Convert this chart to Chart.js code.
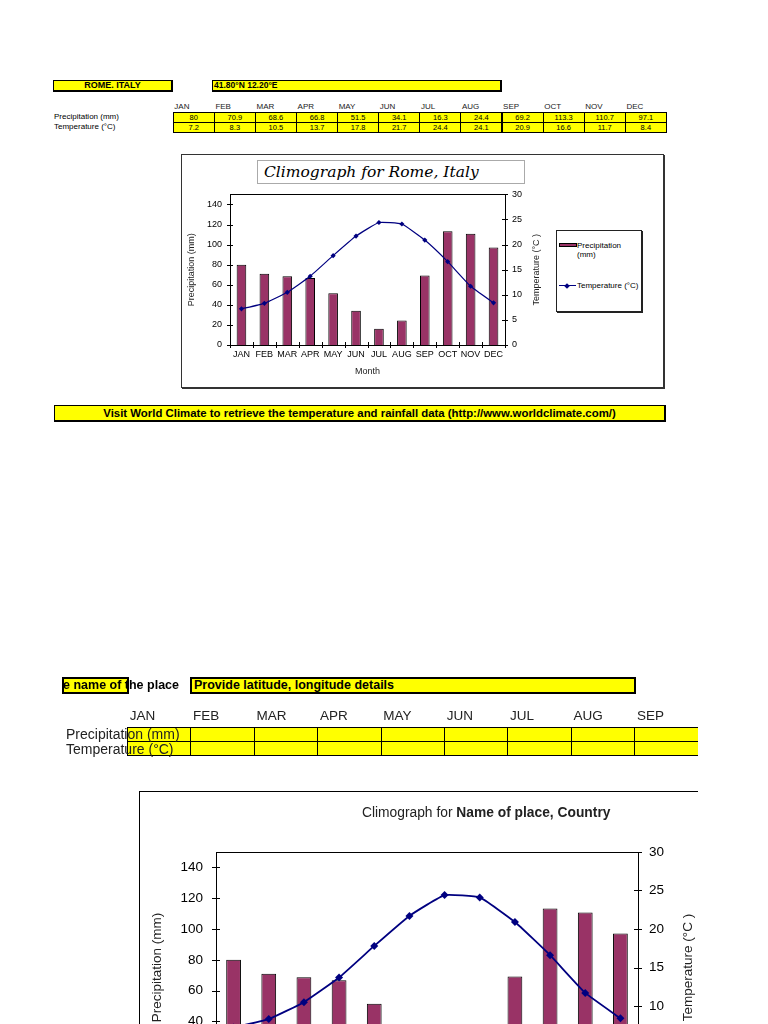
<!DOCTYPE html>
<html>
<head>
<meta charset="utf-8">
<script src="https://cdn.jsdelivr.net/npm/chart.js@4.4.1/dist/chart.umd.min.js"></script>
<style>
  html, body { margin: 0; padding: 0; background: #fff; }
  body { width: 768px; height: 1024px; overflow: hidden; position: relative;
         font-family: "Liberation Sans", Arial, sans-serif; color: #000; }
  .abs { position: absolute; white-space: nowrap; }
  .ybox { position: absolute; box-sizing: border-box; background: #ffff00; border: 1px solid #000;
          border-right-width: 2px; border-bottom-width: 2px; white-space: nowrap; font-weight: bold; }
  .cell { position: absolute; box-sizing: border-box; background: #ffff00; border: 1px solid #000;
          text-align: center; }
  .clip { position: absolute; left: 0; top: 0; width: 698px; height: 1024px; overflow: hidden; }
  canvas { position: absolute; }
</style>
</head>
<body>

<!-- top sheet: Rome -->
<div class="ybox" style="left:53px;top:80px;width:120px;height:12px;font-size:9px;line-height:9px;text-align:center;">ROME. ITALY</div>
<div class="ybox" style="left:212px;top:80px;width:290px;height:12px;font-size:8.5px;line-height:9px;padding-left:1px;">41.80°N 12.20°E</div>
<div class="abs" style="left:54px;top:112px;font-size:8px;line-height:10px;">Precipitation (mm)</div>
<div class="abs" style="left:54px;top:122px;font-size:8px;line-height:10px;">Temperature (°C)</div>
<div id="table1"></div>

<div class="abs" style="left:181px;top:154px;width:483px;height:234px;box-sizing:border-box;border:1px solid #333;box-shadow:1px 1px 0 #333;"></div>
<div class="abs" style="left:257px;top:160px;width:268px;height:24px;box-sizing:border-box;border:1px solid #aaa;padding-left:6px;font-family:'DejaVu Serif',serif;font-style:italic;font-size:15.5px;line-height:22px;">Climograph for Rome, Italy</div>
<canvas id="chart1" width="370" height="205" style="left:183px;top:181px;width:370px;height:205px;"></canvas>

<div class="abs" style="left:556px;top:230px;width:86px;height:82px;box-sizing:border-box;border:1px solid #222;box-shadow:1px 1px 0 #222;"></div>
<div class="abs" style="left:559px;top:243px;width:18px;height:4px;box-sizing:border-box;background:#993366;border:1px solid #000;"></div>
<div class="abs" style="left:577px;top:240.5px;font-size:8px;line-height:9px;">Precipitation<br>(mm)</div>
<div class="abs" style="left:559px;top:285px;width:17px;height:1px;background:#000080;"></div>
<div class="abs" style="left:565px;top:283.5px;width:4px;height:4px;background:#000080;transform:rotate(45deg);"></div>
<div class="abs" style="left:577px;top:281px;font-size:8px;line-height:9px;">Temperature (°C)</div>

<div class="ybox" style="left:54px;top:405px;width:612px;height:17px;font-size:11.4px;line-height:14px;text-align:center;">Visit World Climate to retrieve the temperature and rainfall data (http://www.worldclimate.com/)</div>

<!-- lower sheet: blank template, cut at the right -->
<div class="clip">
  <div class="ybox" style="left:62px;top:677px;width:67px;height:17px;border-width:2px;font-size:12.5px;line-height:13px;padding-left:0;overflow:visible;"><span style="margin-left:-1px;">e name of the place</span></div>
  <div class="ybox" style="left:190px;top:677px;width:446px;height:17px;border-width:2px;font-size:12.5px;line-height:13px;padding-left:2px;">Provide latitude, longitude details</div>
  <div id="table2"></div>
  <div class="abs" style="left:66px;top:726px;font-size:14px;line-height:16px;z-index:2;color:#222;">Precipitation (mm)</div>
  <div class="abs" style="left:66px;top:741px;font-size:14px;line-height:16px;z-index:2;color:#222;">Temperature (°C)</div>

  <div class="abs" style="left:139px;top:791px;width:800px;height:400px;border:1px solid #000;"></div>
  <div class="abs" style="left:362px;top:804px;font-size:13.8px;line-height:18px;color:#222;">Climograph for <b>Name of place, Country</b></div>
  <canvas id="chart2" width="557" height="320" style="left:141px;top:830px;width:557px;height:320px;"></canvas>
</div>

<script>
const months = ['JAN', 'FEB', 'MAR', 'APR', 'MAY', 'JUN', 'JUL', 'AUG', 'SEP', 'OCT', 'NOV', 'DEC'];
const precipitation = [80, 70.9, 68.6, 66.8, 51.5, 34.1, 16.3, 24.4, 69.2, 113.3, 110.7, 97.1];
const temperature = [7.2, 8.3, 10.5, 13.7, 17.8, 21.7, 24.4, 24.1, 20.9, 16.6, 11.7, 8.4];

const precipMax = 150, precipStep = 20;   // 150 is the axis top, labels stop at 140
const tempMax = 30, tempStep = 5;

// spreadsheet cells
function sheet(id, x0, cw, labelTop, rowTops, rowH, fontSize, values) {
    const box = document.getElementById(id);
    months.forEach((m, i) => {
        const left = x0 + i * cw;
        const lab = document.createElement('div');
        lab.className = 'abs';
        lab.style.cssText = `left:${left + fontSize * 0.2}px;top:${labelTop}px;font-size:${fontSize}px;line-height:${fontSize * 1.2}px;color:#222;`;
        lab.textContent = m;
        box.appendChild(lab);
        rowTops.forEach((top, r) => {
            const c = document.createElement('div');
            c.className = 'cell';
            c.style.cssText = `left:${left}px;top:${top}px;width:${cw + 1}px;height:${rowH + 1}px;font-size:${fontSize * 0.94}px;line-height:${rowH - 1}px;`;
            if (values) c.textContent = values[r][i];
            box.appendChild(c);
        });
    });
}
sheet('table1', 172.7, 41.1, 102, [112, 122], 10, 8, [precipitation, temperature]);
sheet('table2', 127, 63.4, 708, [727, 741], 14, 13.5, null);

const axisMarks = {
    id: 'axisMarks',
    afterDraw(chart, args, o) {
        const { ctx, chartArea: a, scales } = chart;
        const L = o.len;
        ctx.save();
        ctx.strokeStyle = '#000';
        ctx.lineWidth = 1;
        ctx.beginPath();
        ctx.moveTo(a.left, Math.round(a.top) + 0.5);
        ctx.lineTo(a.right, Math.round(a.top) + 0.5);
        scales.y.ticks.forEach(t => {
            const py = Math.round(scales.y.getPixelForValue(t.value)) + 0.5;
            ctx.moveTo(a.left - L, py); ctx.lineTo(a.left + L, py);
        });
        scales.y1.ticks.forEach(t => {
            const py = Math.round(scales.y1.getPixelForValue(t.value)) + 0.5;
            ctx.moveTo(a.right - L, py); ctx.lineTo(a.right + L, py);
        });
        const n = scales.x.ticks.length, w = (a.right - a.left) / n;
        for (let i = 0; i <= n; i++) {
            const px = Math.round(a.left + i * w) + 0.5;
            ctx.moveTo(px, a.bottom - L); ctx.lineTo(px, a.bottom + L);
        }
        ctx.stroke();
        // right axis title reads bottom-to-top like the left one
        ctx.fillStyle = '#222';
        ctx.font = o.font + 'px "Liberation Sans", Arial, sans-serif';
        ctx.textAlign = 'center';
        ctx.textBaseline = 'middle';
        ctx.translate(a.right + o.titleDx, (a.top + a.bottom) / 2);
        ctx.rotate(-Math.PI / 2);
        ctx.fillText('Temperature (°C )', 0, 0);
        ctx.restore();
    }
};

function climograph(id, s) {
    const tickFont = { family: '"Liberation Sans", Arial, sans-serif', size: s.font };
    return new Chart(document.getElementById(id), {
        type: 'bar',
        data: {
            labels: months,
            datasets: [{
                type: 'line',
                label: 'Temperature (°C)',
                data: temperature,
                yAxisID: 'y1',
                borderColor: '#000080',
                backgroundColor: '#000080',
                borderWidth: s.line,
                pointStyle: 'rectRot',
                pointRadius: s.point,
                pointBorderWidth: 0,
                tension: 0.12,
                order: 1
            }, {
                type: 'bar',
                label: 'Precipitation (mm)',
                data: precipitation,
                yAxisID: 'y',
                backgroundColor: '#993366',
                borderColor: '#000',
                borderWidth: 1,
                barPercentage: 0.42,
                categoryPercentage: 1,
                order: 2
            }]
        },
        options: {
            responsive: false,
            animation: false,
            events: [],
            layout: { padding: { top: s.padTop, left: 0, right: 0, bottom: 0 } },
            plugins: {
                legend: { display: false },
                tooltip: { enabled: false },
                axisMarks: { len: s.mark, font: s.font, titleDx: s.titleDx }
            },
            scales: {
                x: {
                    grid: { display: false, drawTicks: false },
                    border: { color: '#000' },
                    ticks: { color: '#000', font: tickFont, padding: s.xPad, maxRotation: 0, autoSkip: false },
                    title: { display: true, text: 'Month', color: '#222', font: tickFont, padding: { top: 0, bottom: s.xTitlePad } },
                    afterFit: sc => { sc.height = s.xH; }
                },
                y: {
                    position: 'left',
                    min: 0,
                    max: precipMax,
                    grid: { display: false, drawTicks: false },
                    border: { color: '#000' },
                    ticks: { stepSize: precipStep, includeBounds: false, autoSkip: false, color: '#000', font: tickFont, padding: s.yPad },
                    title: { display: true, text: 'Precipitation (mm)', color: '#222', font: tickFont, padding: { top: s.yTitlePad, bottom: 0 } },
                    afterBuildTicks: sc => { sc.ticks = sc.ticks.filter(t => t.value % precipStep === 0); },
                    afterFit: sc => { sc.width = s.yW; }
                },
                y1: {
                    position: 'right',
                    min: 0,
                    max: tempMax,
                    grid: { display: false, drawTicks: false },
                    border: { color: '#000' },
                    ticks: { stepSize: tempStep, autoSkip: false, color: '#000', font: tickFont, padding: s.y1Pad },
                    afterFit: sc => { sc.width = s.y1W; }
                }
            }
        },
        plugins: [axisMarks]
    });
}

climograph('chart1', {
    font: 9, line: 1.2, point: 2.6, mark: 3,
    padTop: 0, xH: 41, yW: 47, y1W: 48,
    xPad: 4.6, xTitlePad: 8.6, yPad: 8, yTitlePad: 3.6, y1Pad: 7, titleDx: 32
});
climograph('chart2', {
    font: 13.5, line: 1.8, point: 4, mark: 4,
    padTop: 22, xH: 67, yW: 75, y1W: 60,
    xPad: 7, xTitlePad: 12, yPad: 13, yTitlePad: 7.9, y1Pad: 11, titleDx: 50
});
</script>
</body>
</html>
